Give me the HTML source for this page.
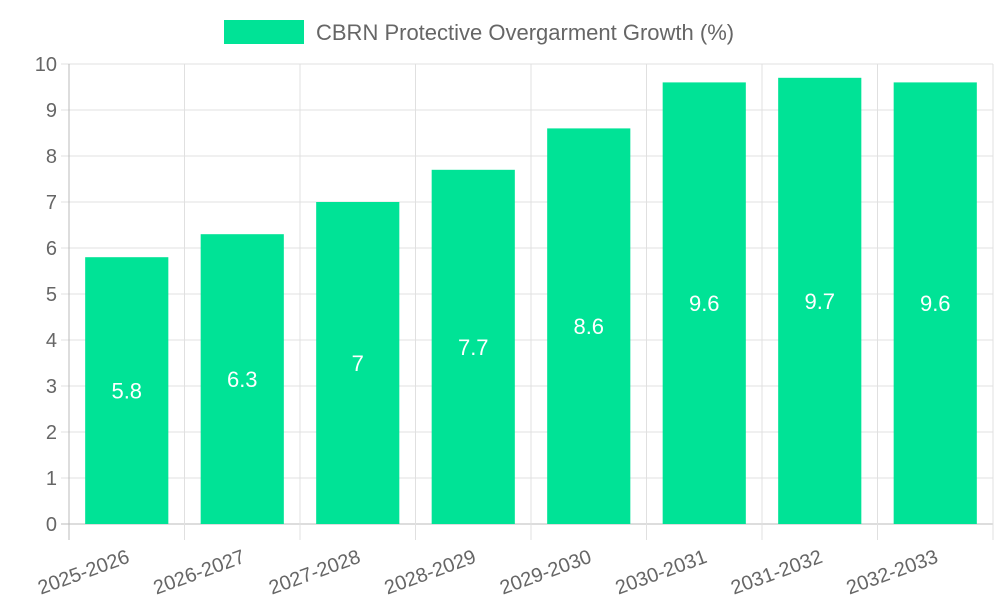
<!DOCTYPE html>
<html><head><meta charset="utf-8"><style>
html,body{margin:0;padding:0;background:#fff;}
svg{display:block;font-family:"Liberation Sans",sans-serif;}
</style></head><body>
<svg id="chart" width="1000" height="600">
<g id="legend">
<rect x="224" y="20" width="80" height="24" fill="#00e396"></rect>
<text x="316" y="40" font-size="22" fill="#666">CBRN Protective Overgarment Growth (%)</text>
</g>
<g id="grid"></g><g id="bars"></g><g id="labels"></g>
</svg>
<script>
const categories=["2025-2026","2026-2027","2027-2028","2028-2029","2029-2030","2030-2031","2031-2032","2032-2033"];
const values=[5.8,6.3,7,7.7,8.6,9.6,9.7,9.6];
const yTicks=[0,1,2,3,4,5,6,7,8,9,10];
const NS="http://www.w3.org/2000/svg";
const L=69,R=993,T=64,B=524,yMax=10;
const y=v=>B-(v/yMax)*(B-T);
const band=(R-L)/categories.length;
const x=i=>L+band*i;
function mk(tag,attrs,parent,txt){const e=document.createElementNS(NS,tag);for(const k in attrs)e.setAttribute(k,attrs[k]);if(txt!==undefined)e.textContent=txt;document.getElementById(parent).appendChild(e);return e;}
yTicks.forEach(t=>{
 const g=mk("line",{x1:L-8,x2:R,y1:y(t),y2:y(t),stroke:t===0?"#bbb":"#e0e0e0","stroke-width":1},"grid");
 
 
 const tl=mk("text",{x:L-12,y:y(t)+7,"text-anchor":"end","font-size":20,fill:"#666"},"grid",String(t));
 
 
});
for(let i=0;i<=categories.length;i++){
 const g=mk("line",{x1:x(i),x2:x(i),y1:T,y2:B+16,stroke:i===0?"#bbb":"#e0e0e0","stroke-width":1},"grid");
 
 
}
categories.forEach((c,i)=>{
 const bw=band*0.72, bx=x(i)+(band-bw)/2;
 const r=mk("rect",{x:bx,y:y(values[i]),width:bw,height:B-y(values[i]),fill:"#00e396"},"bars");
 
 
 const v=mk("text",{x:x(i)+band/2,y:(y(values[i])+B)/2+8,"text-anchor":"middle","font-size":22,fill:"#fff"},"labels",String(values[i]));
 
 
 const cx=x(i)+band/2+4, cy=B+38;
 const t=mk("text",{x:cx,y:cy,"text-anchor":"end","font-size":20,fill:"#666",transform:`rotate(-20 ${cx} ${cy})`},"labels",c);
 
 
});
</script>
</body></html>
